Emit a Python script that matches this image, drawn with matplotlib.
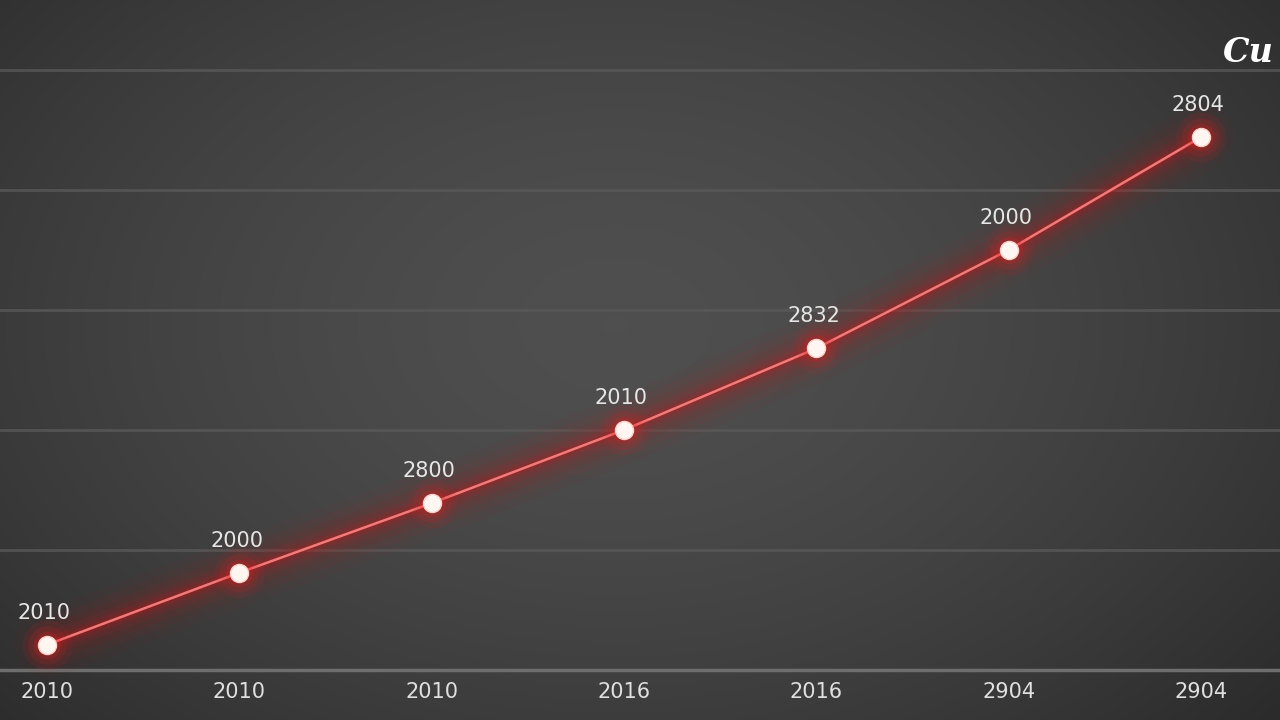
import matplotlib.pyplot as plt
import numpy as np

# values (gridline step = 100)
positions = [0, 1, 2, 3, 4, 5, 6]
values = [21, 81, 139, 200, 268, 350, 444]
point_labels = ["2010", "2000", "2800", "2010", "2832", "2000", "2804"]
tick_labels = ["2010", "2010", "2010", "2016", "2016", "2904", "2904"]
grid_levels = [100, 200, 300, 400, 500]

fig = plt.figure(figsize=(12.8, 7.2), dpi=100)
ax = fig.add_axes([0, 0, 1, 1])
ax.set_xlim(-0.2444, 6.411)
ax.set_ylim(-41.7, 558.3)
ax.axis("off")

# vignette background
h, w = 360, 640
yy, xx = np.mgrid[0:h, 0:w]
r = np.sqrt(((xx - w * 0.48) / (w * 0.62)) ** 2 + ((yy - h * 0.45) / (h * 0.75)) ** 2)
bg = np.clip(0.31 - 0.12 * r ** 1.6, 0.16, 0.31)
ax.imshow(np.dstack([bg, bg, bg]), extent=(-0.2444, 6.411, -41.7, 558.3),
          aspect="auto", zorder=0, interpolation="bilinear")

for g in grid_levels:
    ax.axhline(g, color="#595959", lw=2, alpha=0.8, zorder=1)
ax.axhline(0, color="#6e6e6e", lw=2.5, zorder=1)

# red glow
for lw, a in [(48, 0.04), (36, 0.05), (26, 0.07), (17, 0.1), (10, 0.14), (5, 0.22)]:
    ax.plot(positions, values, color="#c81414", lw=lw, alpha=a,
            solid_capstyle="round", zorder=2)
ax.plot(positions, values, color="#f27a7a", lw=1.8, zorder=3)
for ms, a in [(36, 0.08), (28, 0.12), (20, 0.2)]:
    ax.plot(positions, values, "o", color="#e02020", ms=ms, alpha=a,
            mec="none", zorder=3)
ax.plot(positions, values, "o", color="#fff6f2", ms=13, mec="#ffd0c8",
        mew=1, zorder=4)

for x, y, lab in zip(positions, values, point_labels):
    ax.annotate(lab, (x, y), xytext=(-2, 16), textcoords="offset points",
                ha="center", va="bottom", color="#e6e6e6", fontsize=15)

for x, lab in zip(positions, tick_labels):
    ax.text(x, -18, lab, ha="center", va="center", color="#e0e0e0",
            fontsize=15)

ax.text(1274, 668, "Cu", transform=None, color="white", fontsize=24,
        fontstyle="italic", fontweight="bold", fontfamily="DejaVu Serif",
        va="center", ha="right", zorder=5)

fig.savefig("out.png", dpi=100)
